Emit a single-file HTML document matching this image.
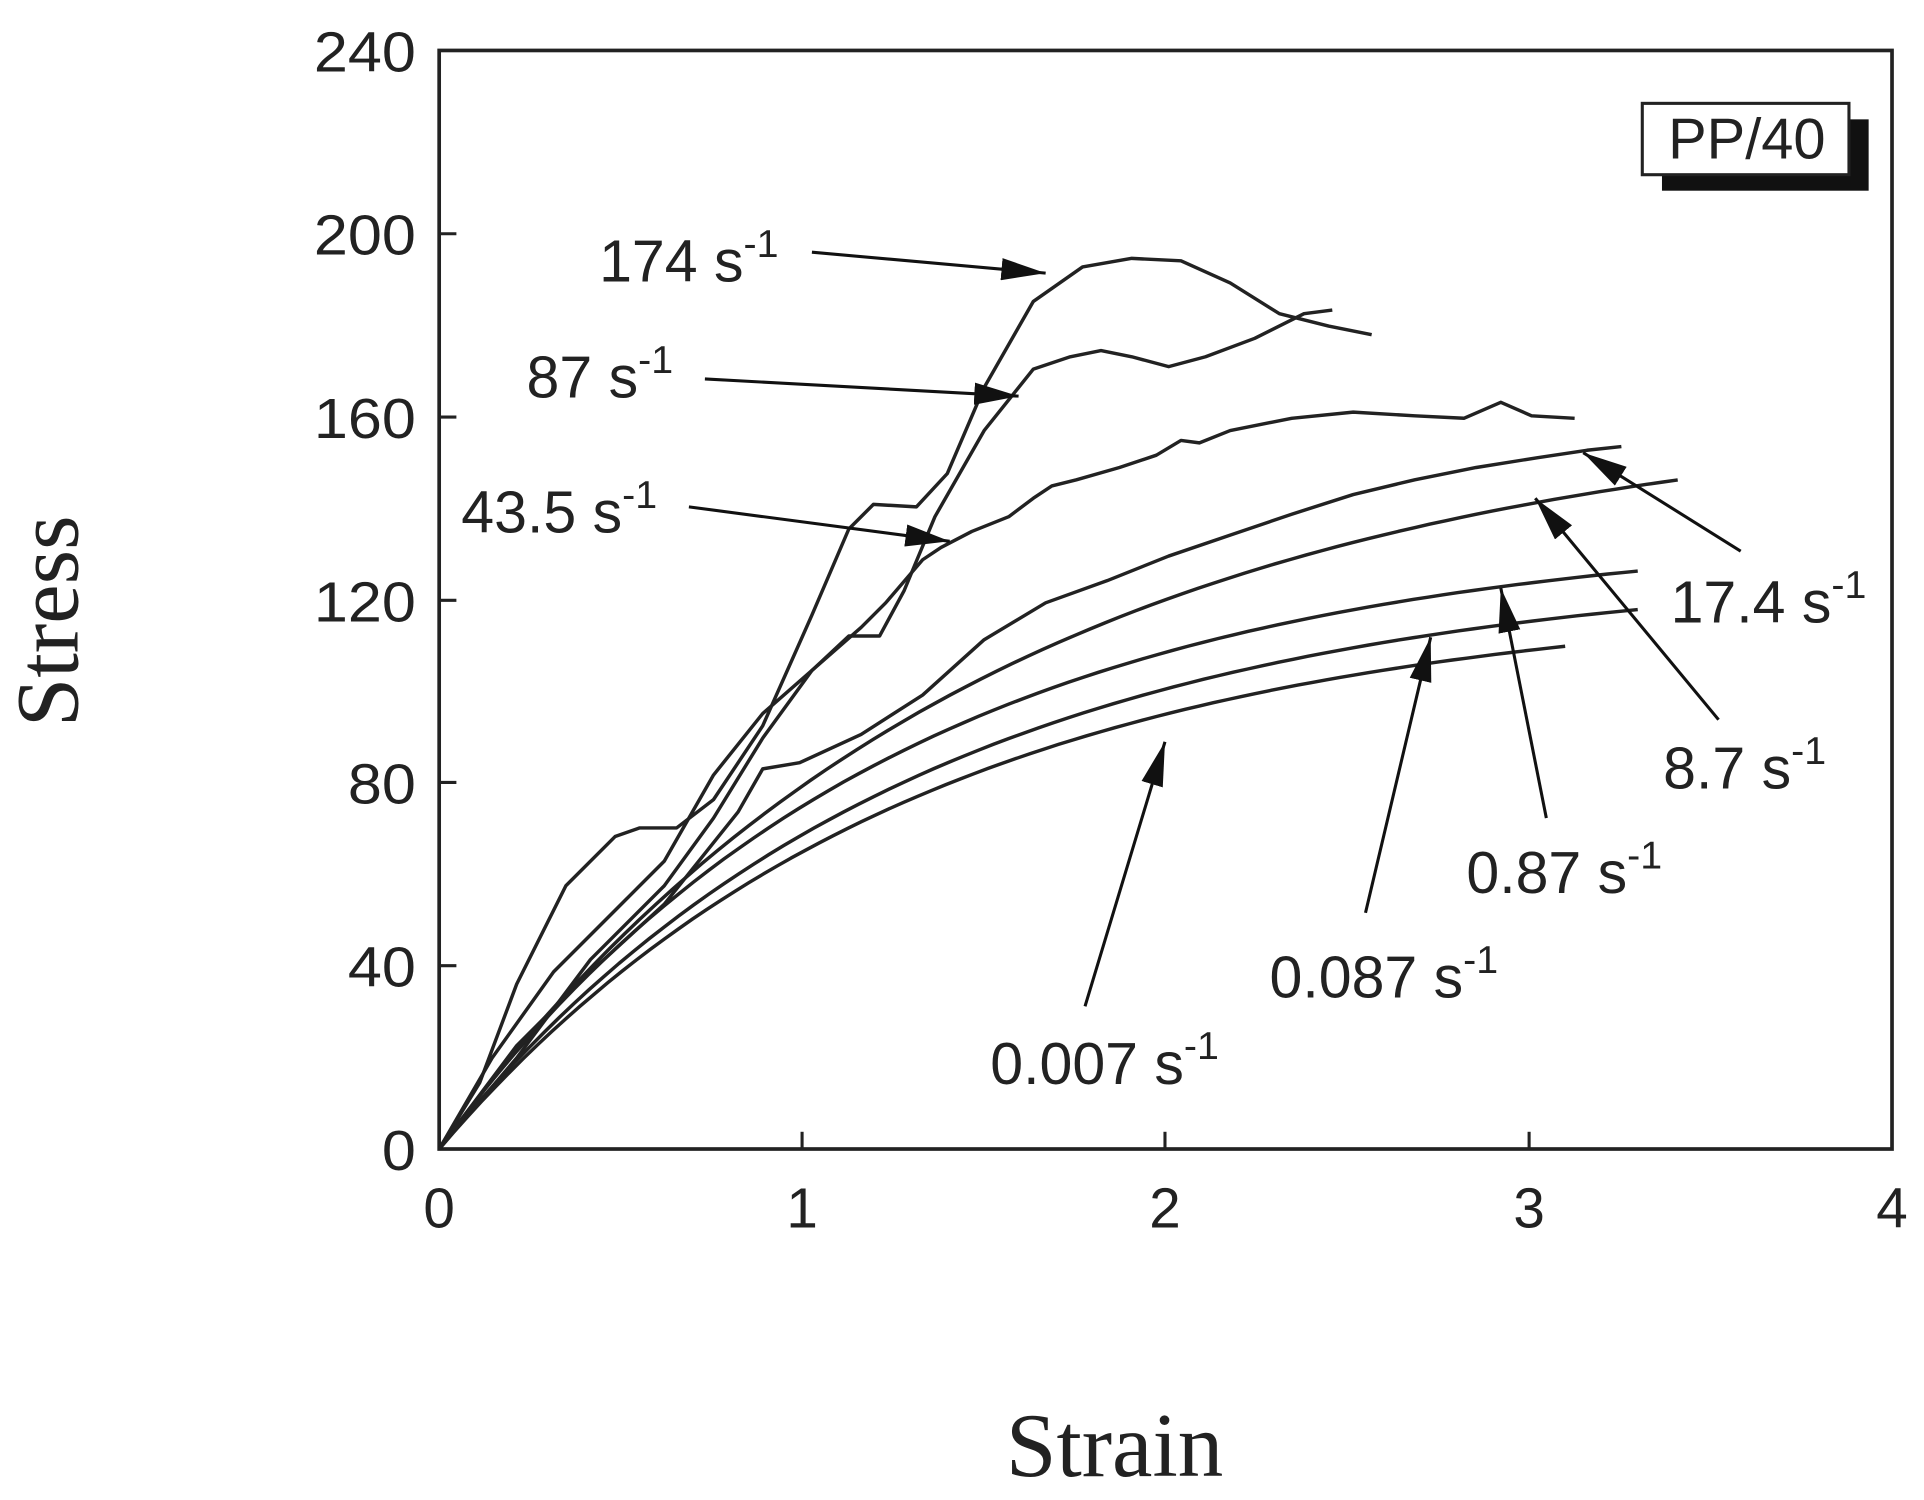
<!DOCTYPE html>
<html><head><meta charset="utf-8"><style>
html,body{margin:0;padding:0;background:#fff;}
svg{display:block;}
text{font-family:"Liberation Sans",sans-serif;fill:#222;}
.s{font-family:"Liberation Serif",serif;}
</style></head><body>
<svg id="c" width="1924" height="1500" viewBox="0 0 1564 1219.3" xmlns="http://www.w3.org/2000/svg">
<defs>
<marker id="ah" viewBox="0 0 36 18" refX="36" refY="9" markerWidth="36" markerHeight="18" orient="auto" markerUnits="userSpaceOnUse"><path d="M0,0 L36,9 L0,18 Z" fill="#111"/></marker>
</defs>
<rect x="357" y="41" width="1181" height="893" fill="none" stroke="#222" stroke-width="3"/>
<g stroke="#222" stroke-width="2.5">
<line x1="652" y1="934" x2="652" y2="920"/><line x1="947" y1="934" x2="947" y2="920"/><line x1="1243" y1="934" x2="1243" y2="920"/>
<line x1="357" y1="785" x2="371" y2="785"/><line x1="357" y1="636" x2="371" y2="636"/><line x1="357" y1="488" x2="371" y2="488"/><line x1="357" y1="339" x2="371" y2="339"/><line x1="357" y1="190" x2="371" y2="190"/>
</g>
<g font-size="46" text-anchor="end" transform="scale(1.08,1)">
<text x="313" y="951">0</text><text x="313" y="802">40</text><text x="313" y="653">80</text><text x="313" y="505">120</text><text x="313" y="356">160</text><text x="313" y="207">200</text><text x="313" y="58">240</text>
</g>
<g font-size="46" text-anchor="middle">
<text x="357" y="998">0</text><text x="652" y="998">1</text><text x="947" y="998">2</text><text x="1243" y="998">3</text><text x="1538" y="998">4</text>
</g>
<text class="s" x="906" y="1200" font-size="74" text-anchor="middle">Strain</text>
<text class="s" transform="translate(63,505) rotate(-90)" font-size="72" text-anchor="middle">Stress</text>
<rect x="1351" y="97" width="168" height="58" fill="#111"/>
<rect x="1335" y="84" width="168" height="58" fill="#fff" stroke="#222" stroke-width="2.5"/>
<text x="1420" y="129" font-size="47" text-anchor="middle">PP/40</text>
<g id="curves" fill="none" stroke="#222" stroke-width="2.8" stroke-linejoin="round">
<polyline points="357,934 420,850 480,790 540,735 600,660 620,625 650,620 700,597 750,565 800,520 850,490 900,472 950,452 1000,435 1050,418 1100,402 1150,390 1200,380 1250,372 1290,366 1318,363"/>
<polyline points="357,934 420,860 480,780 540,720 580,665 620,600 660,545 700,510 720,490 750,455 765,445 790,432 820,420 840,405 855,395 875,390 910,380 940,370 960,358 975,360 1000,350 1050,340 1100,335 1150,338 1190,340 1220,327 1245,338 1280,340"/>
<polyline points="357,934 390,880 420,800 460,720 500,680 520,673 550,673 580,650 620,590 660,500 690,430 710,410 745,412 770,385 800,315 840,245 880,217 920,210 960,212 1000,230 1040,255 1080,265 1115,272"/>
<polyline points="357,934 400,860 450,790 500,740 540,700 580,630 620,580 660,545 690,517 715,517 735,480 760,420 800,350 840,300 870,290 895,285 920,290 950,298 980,290 1020,275 1060,255 1083,252"/>
</g>
<g stroke="#111" stroke-width="2.5" marker-end="url(#ah)">
<line x1="660" y1="205" x2="850" y2="222"/>
<line x1="573" y1="308" x2="828" y2="322"/>
<line x1="560" y1="412" x2="772" y2="440"/>
<line x1="1415" y1="448" x2="1287" y2="368"/>
<line x1="1397" y1="585" x2="1248" y2="405"/>
<line x1="1257" y1="665" x2="1220" y2="478"/>
<line x1="1110" y1="742" x2="1163" y2="518"/>
<line x1="882" y1="818" x2="947" y2="603"/>
</g>
<g font-size="48">
<text x="487" y="229">174 s<tspan font-size="32" dy="-20">-1</tspan></text>
<text x="428" y="323">87 s<tspan font-size="32" dy="-20">-1</tspan></text>
<text x="375" y="433">43.5 s<tspan font-size="32" dy="-20">-1</tspan></text>
<text x="1358" y="506">17.4 s<tspan font-size="32" dy="-20">-1</tspan></text>
<text x="1352" y="641">8.7 s<tspan font-size="32" dy="-20">-1</tspan></text>
<text x="1192" y="726">0.87 s<tspan font-size="32" dy="-20">-1</tspan></text>
<text x="1032" y="811">0.087 s<tspan font-size="32" dy="-20">-1</tspan></text>
<text x="805" y="881">0.007 s<tspan font-size="32" dy="-20">-1</tspan></text>
</g>
</svg>
<script>
(function(){
var g=document.getElementById('curves');
var sets=[[121,1.3,3.1],[128,1.3,3.3],[136,1.25,3.3],[163,1.5,3.41]];
sets.forEach(function(p){
 var d='';
 for(var i=0;i<=80;i++){var s=p[2]*i/80;var v=p[0]*(1-Math.exp(-s/p[1]));
  var x=357+295.25*s,y=934-3.72*v; d+=(i?'L':'M')+x.toFixed(1)+','+y.toFixed(1);}
 var e=document.createElementNS('http://www.w3.org/2000/svg','path');
 e.setAttribute('d',d);g.appendChild(e);
});
})();
</script>
</body></html>
